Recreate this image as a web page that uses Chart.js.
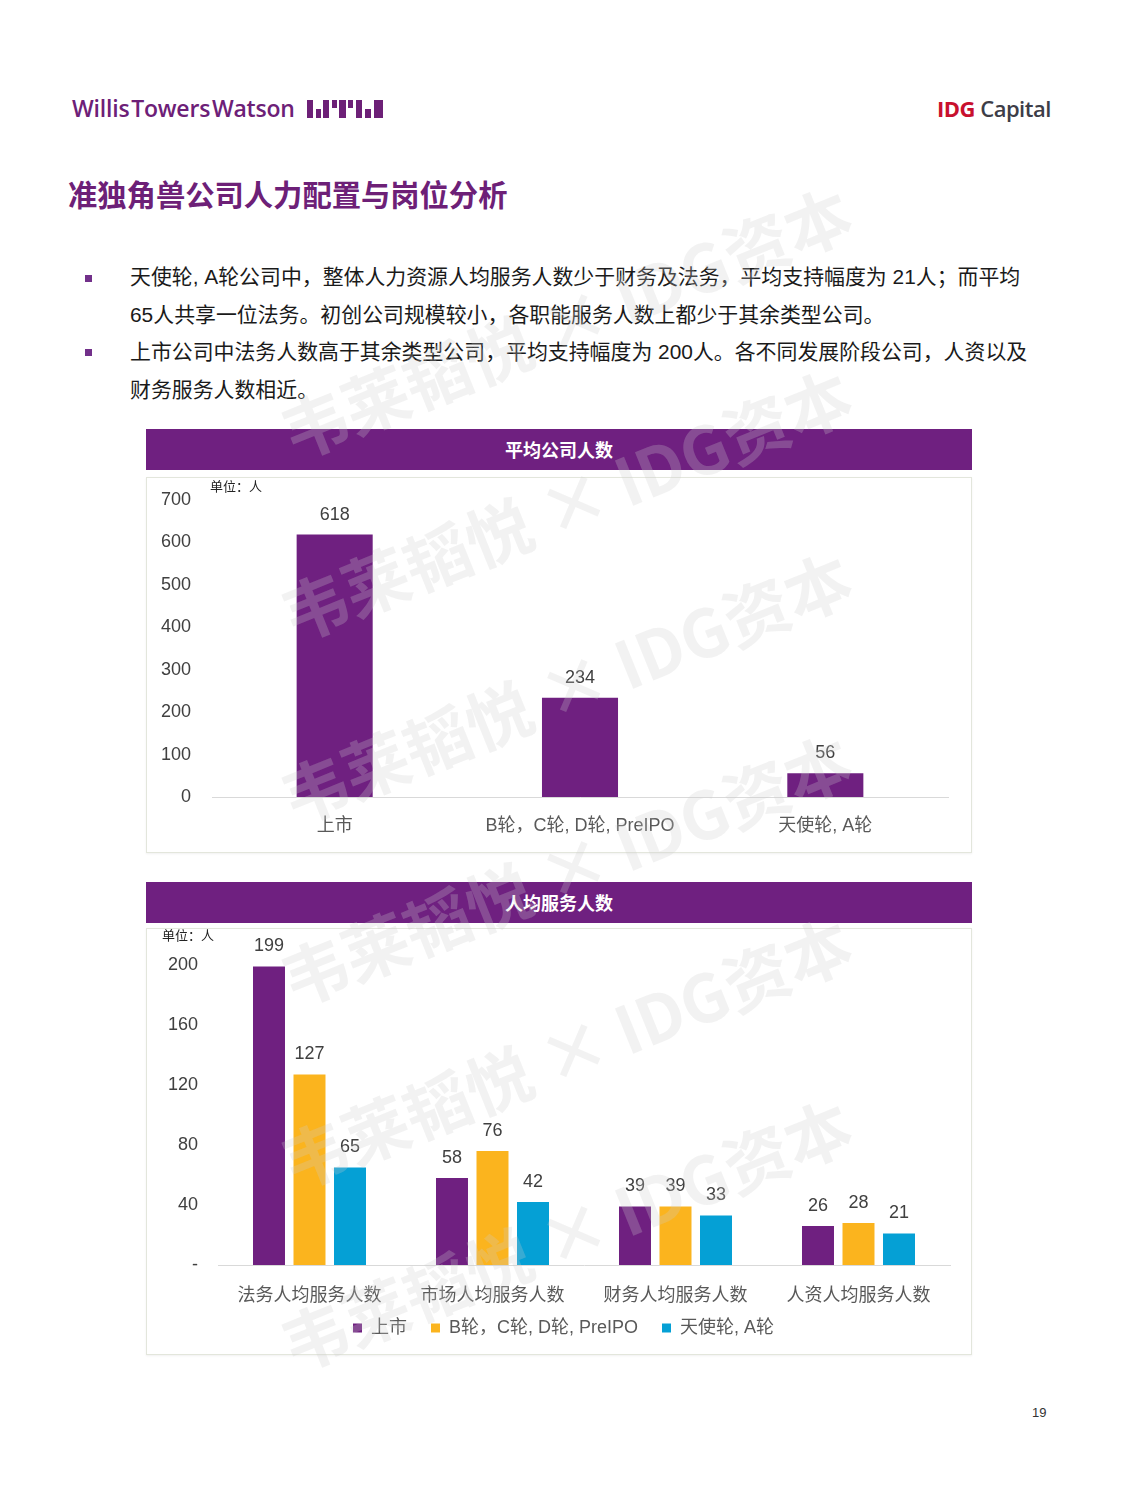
<!DOCTYPE html>
<html>
<head>
<meta charset="utf-8">
<script src="https://cdn.jsdelivr.net/npm/chart.js@4.4.0/dist/chart.umd.min.js"></script>
<style>
body { margin: 0; background: #fff; font-family: "Liberation Sans", "Noto Sans CJK SC", sans-serif; }
#page { position: relative; width: 1125px; height: 1500px; overflow: hidden; background: #fff; }
.abs { position: absolute; }
.wtw { left: 72px; top: 94px; font-family: "Open Sans", sans-serif; font-weight: 600; font-size: 23px; color: #6d2077; letter-spacing: -0.2px; word-spacing: -4px; line-height: 28px; }
.bars div { position: absolute; background: #6d2077; }
.idg { left: 937px; top: 94px; font-family: "Open Sans", sans-serif; font-size: 22px; line-height: 28px; letter-spacing: -0.5px; }
.idg b { color: #c8102e; font-weight: 700; }
.idg span { color: #3d3d47; font-weight: 600; }
.title { left: 68px; top: 173px; font-family: "Noto Sans CJK SC", sans-serif; font-weight: 700; font-size: 29.3px; line-height: 40px; color: #6d2077; }
.body { left: 130px; top: 258px; font-size: 20.9px; line-height: 37.5px; color: #1a1a1a; white-space: nowrap; }
.bullet { width: 7px; height: 7px; background: #72308a; }
.bar-head { left: 146px; width: 826px; height: 41px; background: #6f2080; color: #fff; font-family: "Noto Sans CJK SC", sans-serif; font-weight: 700; font-size: 18px; line-height: 41px; text-align: center; }
.box { left: 146px; width: 824px; border: 1px solid #e3e6dc; box-shadow: 0 1px 2px rgba(0,0,0,0.06); }
.unit { font-size: 13px; color: #222; line-height: 16px; }
.wm { left: 565px; font-family: "Noto Sans CJK SC", sans-serif; font-weight: 700; font-size: 66px; color: rgba(205,205,205,0.26); white-space: nowrap; transform: translate(-50%, -50%) rotate(-22deg); pointer-events: none; z-index: 10; }
</style>
</head>
<body>
<div id="page">
  <div class="abs wtw">Willis Towers Watson</div>
  <div class="abs bars" style="left:307px;top:100px;width:80px;height:18px;">
    <div style="left:0;top:0;width:6px;height:18px"></div>
    <div style="left:9px;top:9px;width:5px;height:9px"></div>
    <div style="left:16px;top:0;width:6px;height:18px"></div>
    <div style="left:25px;top:0;width:5px;height:8px"></div>
    <div style="left:32px;top:0;width:7px;height:18px"></div>
    <div style="left:41px;top:0;width:5px;height:8px"></div>
    <div style="left:49px;top:0;width:6px;height:18px"></div>
    <div style="left:58px;top:9px;width:6px;height:9px"></div>
    <div style="left:67px;top:0;width:9px;height:18px"></div>
  </div>
  <div class="abs idg"><b>IDG</b> <span>Capital</span></div>

  <div class="abs title">准独角兽公司人力配置与岗位分析</div>

  <div class="abs bullet" style="left:85px;top:275px;"></div>
  <div class="abs bullet" style="left:85px;top:349px;"></div>
  <div class="abs body">天使轮, A轮公司中，整体人力资源人均服务人数少于财务及法务，平均支持幅度为 21人；而平均<br>65人共享一位法务。初创公司规模较小，各职能服务人数上都少于其余类型公司。<br>上市公司中法务人数高于其余类型公司，平均支持幅度为 200人。各不同发展阶段公司，人资以及<br>财务服务人数相近。</div>

  <div class="abs bar-head" style="top:429px;">平均公司人数</div>
  <div class="abs box" style="top:477px;height:374px;">
    <div style="position:absolute;left:0;top:-10px;width:824px;height:384px;">
      <canvas id="companyChart"></canvas>
    </div>
  </div>
  <div class="abs unit" style="left:210px;top:479px;">单位：人</div>

  <div class="abs bar-head" style="top:882px;">人均服务人数</div>
  <div class="abs box" style="top:928px;height:425px;">
    <canvas id="roleChart"></canvas>
  </div>
  <div class="abs unit" style="left:162px;top:928px;">单位：人</div>

  <div class="abs" style="left:1032px;top:1405px;font-size:13px;color:#333;">19</div>

  <div class="abs wm" style="top:320px;">韦莱韬悦 × IDG资本</div>
  <div class="abs wm" style="top:502px;">韦莱韬悦 × IDG资本</div>
  <div class="abs wm" style="top:685px;">韦莱韬悦 × IDG资本</div>
  <div class="abs wm" style="top:867px;">韦莱韬悦 × IDG资本</div>
  <div class="abs wm" style="top:1050px;">韦莱韬悦 × IDG资本</div>
  <div class="abs wm" style="top:1232px;">韦莱韬悦 × IDG资本</div>
</div>

<script>
// chart 1: average company headcount
let companyStages = ['上市', 'B轮，C轮, D轮, PreIPO', '天使轮, A轮'];
let companyHeads = [618, 234, 56];
let companyTicks = [0, 100, 200, 300, 400, 500, 600, 700];

// chart 2: people served per function staff
let roleCats = ['法务人均服务人数', '市场人均服务人数', '财务人均服务人数', '人资人均服务人数'];
let stageNames = ['上市', 'B轮，C轮, D轮, PreIPO', '天使轮, A轮'];
let listedVals = [199, 58, 39, 26];
let laterVals = [127, 76, 39, 28];
let earlyVals = [65, 42, 33, 21];
let roleTicks = [0, 40, 80, 120, 160, 200];

let purple = '#6f2080';
let yellow = '#fbb41e';
let blue = '#05a0d5';

let fontFam = '"Liberation Sans", "Noto Sans CJK SC", sans-serif';
Chart.defaults.font.family = fontFam;
Chart.defaults.font.size = 18;

// numbers above the bars
const valueLabels = {
    id: 'valueLabels',
    afterDatasetsDraw(chart) {
        let ctx = chart.ctx;
        ctx.save();
        ctx.font = '18px ' + fontFam;
        ctx.fillStyle = '#404040';
        ctx.textAlign = 'center';
        ctx.textBaseline = 'middle';
        chart.data.datasets.forEach((ds, i) => {
            chart.getDatasetMeta(i).data.forEach((bar, j) => {
                ctx.fillText(ds.data[j], bar.x, bar.y - 20);
            });
        });
        ctx.restore();
    }
};

// pull the legend a bit closer to the axis labels
const liftLegend = {
    id: 'liftLegend',
    afterLayout(chart) {
        if (chart.legend) {
            chart.legend.top -= 10;
            chart.legend.bottom -= 10;
            chart.legend.left += 15;
            chart.legend.right += 15;
        }
    }
};

new Chart(document.getElementById('companyChart'), {
    type: 'bar',
    data: {
        labels: companyStages,
        datasets: [{
            data: companyHeads,
            backgroundColor: purple,
            borderWidth: 0,
            barPercentage: 0.31,
            categoryPercentage: 1
        }]
    },
    options: {
        responsive: true,
        maintainAspectRatio: false,
        animation: false,
        layout: { padding: { top: 10, right: 23, bottom: 0, left: 0 } },
        plugins: { legend: { display: false }, tooltip: { enabled: false } },
        scales: {
            x: {
                grid: { display: false },
                border: { display: true, color: '#d9d9d9', width: 1 },
                ticks: { color: '#595959', padding: 10 },
                afterFit: s => { s.height = 55; }
            },
            y: {
                min: 0, max: 700,
                grid: { display: false, drawTicks: false },
                border: { display: false },
                afterBuildTicks: s => { s.ticks = companyTicks.map(v => ({ value: v })); },
                ticks: { color: '#404040', padding: 21 },
                afterFit: s => { s.width = 65; }
            }
        }
    },
    plugins: [valueLabels]
});

new Chart(document.getElementById('roleChart'), {
    type: 'bar',
    data: {
        labels: roleCats,
        datasets: [
            { label: stageNames[0], data: listedVals, backgroundColor: purple },
            { label: stageNames[1], data: laterVals, backgroundColor: yellow },
            { label: stageNames[2], data: earlyVals, backgroundColor: blue }
        ].map(d => Object.assign(d, { borderWidth: 0, barPercentage: 0.79, categoryPercentage: 0.664 }))
    },
    options: {
        responsive: true,
        maintainAspectRatio: false,
        animation: false,
        layout: { padding: { top: 36, right: 21, bottom: -3, left: 0 } },
        plugins: {
            tooltip: { enabled: false },
            legend: {
                position: 'bottom',
                labels: { color: '#595959', boxWidth: 9, boxHeight: 9, padding: 24, font: { size: 18 } }
            }
        },
        scales: {
            x: {
                grid: { display: false },
                border: { display: true, color: '#d9d9d9', width: 1 },
                ticks: { color: '#595959', padding: 12 },
                afterFit: s => { s.height = 40; }
            },
            y: {
                min: 0, max: 200,
                grid: { display: false, drawTicks: false },
                border: { display: false },
                afterBuildTicks: s => { s.ticks = roleTicks.map(v => ({ value: v })); },
                ticks: { color: '#404040', padding: 20, callback: v => v === 0 ? '-' : v },
                afterFit: s => { s.width = 71; }
            }
        }
    },
    plugins: [valueLabels, liftLegend]
});
</script>
</body>
</html>
